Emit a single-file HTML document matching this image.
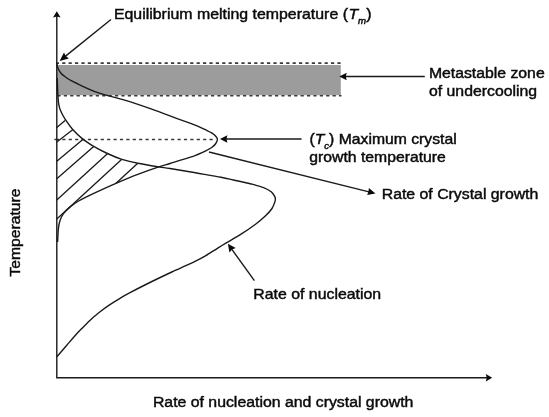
<!DOCTYPE html>
<html><head><meta charset="utf-8">
<style>
html,body{margin:0;padding:0;background:#fff;}
body{width:549px;height:417px;overflow:hidden;}
svg{display:block;}
text{font-family:"Liberation Sans",Arial,sans-serif;font-size:14px;fill:#0a0a0a;stroke:#0a0a0a;stroke-width:0.42px;}
.i{font-style:italic;}
.s{font-style:italic;font-size:8.5px;stroke-width:0.42px;}
</style></head><body>
<svg width="549" height="417" viewBox="0 0 549 417">
<rect width="549" height="417" fill="#fff"/>
<rect x="56.8" y="65" width="284" height="30.2" fill="#9c9c9c"/>
<g fill="none" stroke="#3a3a3a" stroke-width="1.6">
<line x1="56" y1="63.1" x2="341.5" y2="63.1" stroke-dasharray="3.2 3.2" stroke-dashoffset="0.2"/>
<line x1="56" y1="95.7" x2="341.5" y2="95.7" stroke-dasharray="3.2 3.2" stroke-dashoffset="-1.4"/>
</g>
<g fill="none" stroke="#1a1a1a" stroke-width="1.4">
<line x1="55.9" y1="139.5" x2="216" y2="139.5" stroke-dasharray="3.2 3.2" stroke="#3a3a3a"/><line x1="54.3" y1="139.5" x2="56.5" y2="139.5" stroke="#3a3a3a"/>
<path d="M56.8 14 V377.8 H488"/>
<path d="M56.8 127.6 L65.1 120.4 M56.8 141.9 L72.7 129.8 M56.8 161.2 L82.8 139.4 M56.8 178.8 L93.7 146.6 M56.8 200.1 L107.4 153.7 M56.8 219 L121.8 159.3 M116 183.3 L137.8 163.2" stroke-width="1.3"/>
<path d="M56.8 63.5 C57.0 64.2 57.2 66.4 57.9 68.0 C58.6 69.6 59.7 71.7 61.0 73.2 C62.3 74.7 64.0 75.9 65.5 77.0 C67.0 78.1 68.3 79.0 70.1 80.0 C71.8 81.0 73.8 81.9 76.0 83.0 C78.2 84.1 80.3 85.2 83.3 86.6 C86.3 88.0 90.6 89.9 94.2 91.3 C97.8 92.7 99.8 93.4 105.0 94.9 C110.2 96.4 117.8 98.1 125.5 100.4 C133.2 102.7 142.5 105.9 151.0 108.9 C159.5 111.9 170.0 115.9 176.5 118.3 C183.0 120.7 186.5 121.9 190.0 123.2 C193.5 124.5 195.1 125.1 197.7 126.2 C200.2 127.3 203.0 128.6 205.3 129.7 C207.6 130.8 210.0 131.8 211.7 132.9 C213.4 134.0 214.6 134.9 215.5 136.0 C216.4 137.1 217.3 137.9 217.4 139.2 C217.5 140.4 216.8 142.1 215.8 143.5 C214.9 144.9 213.4 146.2 211.7 147.5 C209.9 148.8 207.6 150.0 205.3 151.2 C203.0 152.4 200.3 153.5 197.7 154.5 C195.1 155.5 194.3 155.9 189.7 157.4 C185.1 158.9 175.2 161.9 170.0 163.5 C164.8 165.1 164.2 165.1 158.8 166.9 C153.4 168.7 144.9 171.7 137.8 174.4 C130.7 177.1 123.1 180.3 116.0 183.3 C108.9 186.3 101.6 189.7 95.4 192.6 C89.2 195.5 82.8 198.6 78.6 201.0 C74.4 203.4 72.7 204.8 70.2 206.9 C67.7 209.0 65.2 211.4 63.5 213.6 C61.8 215.8 61.0 217.8 60.1 220.3 C59.2 222.8 58.8 225.1 58.4 228.7 C58.0 232.3 57.7 239.8 57.6 242.0"/>
<path d="M57.2 78.0 C57.3 79.7 57.5 85.1 57.6 88.0 C57.7 90.9 57.7 92.6 57.9 95.3 C58.1 98.0 58.2 101.4 58.7 104.0 C59.2 106.6 59.5 108.3 60.6 110.8 C61.7 113.3 63.1 116.1 65.1 119.2 C67.1 122.3 69.8 126.2 72.7 129.5 C75.7 132.8 79.3 136.3 82.8 139.1 C86.3 141.9 89.6 143.9 93.7 146.3 C97.8 148.7 102.7 151.3 107.4 153.5 C112.1 155.7 116.7 157.7 121.8 159.3 C126.9 160.9 131.6 161.9 137.8 163.2 C144.0 164.5 153.4 166.0 158.8 166.9 C164.2 167.8 163.9 167.5 170.0 168.5 C176.1 169.5 187.0 171.3 195.5 172.8 C204.0 174.3 214.7 176.1 221.0 177.3 C227.3 178.5 228.5 178.9 233.4 180.0 C238.3 181.1 245.2 182.4 250.2 183.7 C255.2 185.0 260.1 186.2 263.6 187.6 C267.1 188.9 269.3 190.3 271.2 191.8 C273.1 193.3 274.2 195.6 274.9 196.8 C275.6 198.1 275.3 198.5 275.3 199.3 C275.3 200.1 275.4 200.3 274.9 201.8 C274.3 203.3 273.6 206.1 272.0 208.5 C270.4 210.9 268.1 213.4 265.3 216.1 C262.5 218.8 259.1 221.6 255.2 224.5 C251.3 227.4 246.8 230.5 241.8 233.7 C236.8 236.9 229.7 240.8 225.0 243.6 C220.3 246.4 217.1 248.7 213.8 250.7 C210.5 252.7 208.3 254.2 205.4 255.8 C202.5 257.5 199.3 259.2 196.5 260.6 C193.7 262.0 192.7 262.5 188.6 264.4 C184.5 266.3 177.4 269.4 171.8 272.0 C166.2 274.6 162.0 276.6 155.0 280.0 C148.0 283.4 135.8 289.6 130.0 292.6 C124.2 295.7 123.5 296.2 120.0 298.3 C116.5 300.4 112.1 303.1 108.8 305.3 C105.5 307.5 103.2 309.3 100.4 311.5 C97.6 313.7 94.8 315.9 92.0 318.4 C89.2 320.9 86.4 323.8 83.6 326.7 C80.8 329.6 78.0 332.4 75.2 335.5 C72.4 338.6 69.8 341.7 66.8 345.2 C63.8 348.7 58.5 354.8 56.9 356.7"/>
<line x1="111" y1="19.5" x2="64" y2="57.4"/>
<line x1="344" y1="76.5" x2="424.8" y2="76.5"/>
<line x1="225" y1="139" x2="301.6" y2="139"/>
<line x1="209" y1="152" x2="370" y2="192.1"/>
<line x1="254.4" y1="280.6" x2="231" y2="248.2"/>
</g>
<g fill="#0a0a0a">
<path d="M56.8 11.3 L60.6 17.5 L56.8 16.6 L53.0 17.5 Z"/>
<path d="M492.2 377.8 L485.8 381.6 L486.7 377.8 L485.8 374.0 Z"/>
<path d="M339.3 76.5 L346.7 72.7 L345.8 76.5 L346.7 80.3 Z"/>
<path d="M220.0 139.0 L227.4 135.2 L226.5 139.0 L227.4 142.8 Z"/>
<path d="M375.4 193.4 L367.2 195.1 L368.4 191.7 L368.9 188.1 Z"/>
<path d="M59.6 61.0 L64.0 52.4 L65.7 56.0 L68.9 58.5 Z"/>
<path d="M227.9 243.8 L235.7 248.0 L232.0 249.6 L229.4 252.6 Z"/>
</g>
<text transform="translate(113.9 18.9) scale(1.136 1)">Equilibrium melting temperature (<tspan class="i" dx="0.4">T</tspan><tspan class="s" dy="4.8" dx="0">m</tspan><tspan dy="-4.8" dx="0">)</tspan></text>
<text transform="translate(428.9 77.7) scale(1.128 1)">Metastable zone</text>
<text transform="translate(429.0 95.5) scale(1.130 1)">of undercooling</text>
<text transform="translate(309.4 143.9) scale(1.125 1)">(<tspan class="i">T</tspan><tspan class="s" dy="5">c</tspan><tspan dy="-5">) Maximum crystal</tspan></text>
<text transform="translate(309.3 162.0) scale(1.125 1)">growth temperature</text>
<text transform="translate(381.7 199.3) scale(1.132 1)">Rate of Crystal growth</text>
<text transform="translate(253.3 298.9) scale(1.134 1)">Rate of nucleation</text>
<text transform="translate(152.9 407.3) scale(1.132 1)">Rate of nucleation and crystal growth</text>
<text transform="translate(20.4 276.6) rotate(-90) scale(1.122 1)">Temperature</text>
</svg>
</body></html>
